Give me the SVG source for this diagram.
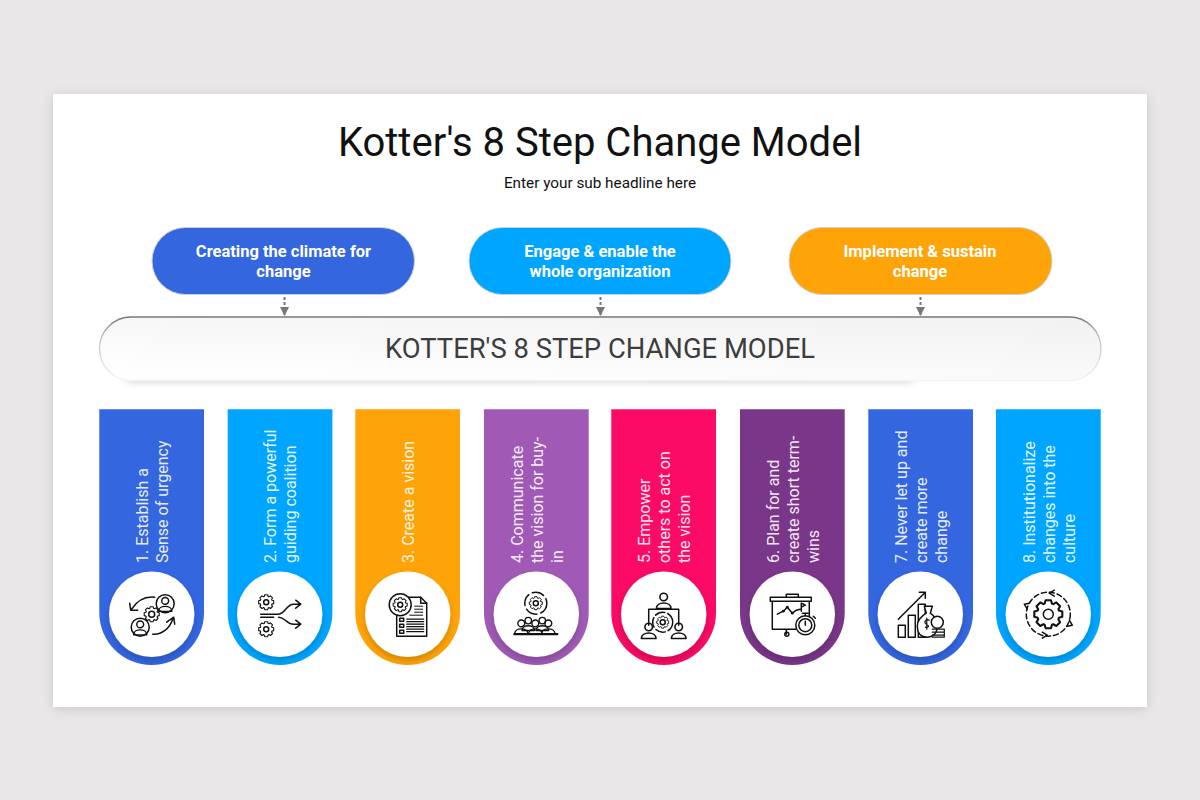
<svg xmlns="http://www.w3.org/2000/svg" xmlns:xlink="http://www.w3.org/1999/xlink" width="1200" height="800" viewBox="0 0 1200 800">
<style>
text{font-family:Roboto,"Liberation Sans",sans-serif}
.pill-t{font-size:16.500px;font-weight:700;fill:#fff;text-anchor:middle}
.step{font-size:16px;fill:#fff;fill-opacity:.9}
.i{fill:none;stroke:#111;stroke-width:1.5;stroke-linecap:round;stroke-linejoin:round}
.i *{vector-effect:non-scaling-stroke}
.w{fill:#fff}
.b{fill:#111;stroke:none}
.conn{stroke:#777;stroke-width:2;stroke-dasharray:3 2;fill:none}
.disc{fill:#fff;filter:url(#ds)}
.pill{stroke:#cfcfcf;stroke-width:1}
</style>
<defs>
<filter id="panel" x="-5%" y="-5%" width="110%" height="110%"><feDropShadow dx="0" dy="2" stdDeviation="6" flood-color="#000" flood-opacity=".14"/></filter>
<filter id="ds" x="-30%" y="-30%" width="160%" height="170%"><feDropShadow dx="0" dy="4" stdDeviation="3" flood-color="#000" flood-opacity=".18"/></filter>
<filter id="blur" x="-5%" y="-100%" width="110%" height="300%"><feGaussianBlur stdDeviation="4"/></filter>
<linearGradient id="bar" x1="0.2" y1="1" x2="0.8" y2="0"><stop offset="0" stop-color="#fff"/><stop offset="1" stop-color="#f2f2f2"/></linearGradient>
<linearGradient id="barStroke" x1="0" y1="0" x2="0" y2="1"><stop offset="0" stop-color="#777"/><stop offset=".3" stop-color="#bbb"/><stop offset="1" stop-color="#f4f4f4"/></linearGradient>
<marker id="tri" markerWidth="10" markerHeight="9" refX="9" refY="4.5" orient="auto" markerUnits="userSpaceOnUse"><path d="M0 0L9 4.5L0 9Z" fill="#777"/></marker>
<polygon id="gear" points="7.6,-2.6 10,-1.9 10,1.9 7.6,2.6 7.21,3.54 8.41,5.73 5.73,8.41 3.54,7.21 2.6,7.6 1.9,10 -1.9,10 -2.6,7.6 -3.54,7.21 -5.73,8.41 -8.41,5.73 -7.21,3.54 -7.6,2.6 -10,1.9 -10,-1.9 -7.6,-2.6 -7.21,-3.54 -8.41,-5.73 -5.73,-8.41 -3.54,-7.21 -2.6,-7.6 -1.9,-10 1.9,-10 2.6,-7.6 3.54,-7.21 5.73,-8.41 8.41,-5.73 7.21,-3.54"/>
<g id="person"><circle cx="0" cy="-4" r="3.6"/><path d="M-7 7C-7 0 7 0 7 7Z"/></g>
</defs>

<rect width="1200" height="800" fill="#e9e7e8"/>
<rect x="53" y="94" width="1094" height="613" fill="#fff" filter="url(#panel)"/>

<text id="title" x="600" y="156" font-size="40" fill="#111" text-anchor="middle">Kotter's 8 Step Change Model</text>
<text id="subtitle" x="600" y="188" font-size="15.300" fill="#111" text-anchor="middle">Enter your sub headline here</text>

<g id="phase-1"><rect class="pill" x="152" y="227.500" width="262.500" height="67" rx="33.500" fill="#3466e0"/><text class="pill-t" x="283.500" y="257">Creating the climate for</text><text class="pill-t" x="283.500" y="277">change</text></g>
<g id="phase-2"><rect class="pill" x="469" y="227.500" width="262" height="67" rx="33.500" fill="#00a5ff"/><text class="pill-t" x="600" y="257">Engage &amp; enable the</text><text class="pill-t" x="600" y="277">whole organization</text></g>
<g id="phase-3"><rect class="pill" x="789" y="227.500" width="263" height="67" rx="33.500" fill="#ffa408"/><text class="pill-t" x="920" y="257">Implement &amp; sustain</text><text class="pill-t" x="920" y="277">change</text></g>

<g id="connectors">
<line class="conn" x1="284.500" y1="297" x2="284.500" y2="316" marker-end="url(#tri)"/>
<line class="conn" x1="600.500" y1="297" x2="600.500" y2="316" marker-end="url(#tri)"/>
<line class="conn" x1="920.500" y1="297" x2="920.500" y2="316" marker-end="url(#tri)"/>
</g>

<g id="model-bar">
<rect x="125" y="368" width="790" height="13" rx="6" fill="#000" fill-opacity=".22" filter="url(#blur)"/>
<rect x="99.500" y="317" width="1001.500" height="63.500" rx="31.700" fill="url(#bar)" stroke="url(#barStroke)" stroke-width="1.300"/>
<text x="600" y="358" font-size="27.400" fill="#3d3d3d" text-anchor="middle">KOTTER'S 8 STEP CHANGE MODEL</text>
</g>

<g id="step-1">
<path d="M99.300 409.300h104.700v203.400a52.350 52.350 0 0 1-104.700 0z" fill="#3466e0"/>
<circle class="disc" cx="151.700" cy="614.200" r="42.700"/>
<text class="step" transform="translate(148 563) rotate(-90)">1. Establish a</text>
<text class="step" transform="translate(168 563) rotate(-90)">Sense of urgency</text>
<g class="i" transform="translate(151.700 614.200)">
<use xlink:href="#gear" href="#gear" transform="scale(.75)"/><circle r="3"/>
<circle cx="13.500" cy="-10.500" r="9"/><use xlink:href="#person" href="#person" transform="translate(13.500 -9.500) scale(.95)"/>
<circle cx="-11.500" cy="13" r="9"/><use xlink:href="#person" href="#person" transform="translate(-11.500 14) scale(.95)"/>
<path d="M3 -17C-7 -18 -15 -13 -20 -5M-22 -11L-21 -4L-14 -4"/>
<path d="M1 20C10 21 18 14 21 5M15 8L22 3L23 10"/>
</g>
</g>

<g id="step-2">
<path d="M227.700 409.300h104.700v203.400a52.350 52.350 0 0 1-104.700 0z" fill="#00a5ff"/>
<circle class="disc" cx="279.700" cy="614.200" r="42.700"/>
<text class="step" transform="translate(276 563) rotate(-90)">2. Form a powerful</text>
<text class="step" transform="translate(296 563) rotate(-90)">guiding coalition</text>
<g class="i" transform="translate(279.700 614.200)">
<use xlink:href="#gear" href="#gear" transform="translate(-13.500 -12) scale(.75)"/><circle cx="-13.500" cy="-12" r="2.500"/>
<use xlink:href="#gear" href="#gear" transform="translate(-13.500 15) scale(.75)"/><circle cx="-13.500" cy="15" r="2.500"/>
<path d="M-19 0H-2C6 0 6 -10 14 -10H20M-19 3H-6M-1 3C6 3 6 10 14 10H20M16 -14L21 -10L16 -6M16 6L21 10L16 14"/>
</g>
</g>

<g id="step-3">
<path d="M355.300 409.300h104.700v203.400a52.350 52.350 0 0 1-104.700 0z" fill="#ffa408"/>
<circle class="disc" cx="407.700" cy="614.200" r="42.700"/>
<text class="step" transform="translate(414 563) rotate(-90)">3. Create a vision</text>
<g class="i" transform="translate(407.700 614.200)">
<path class="w" d="M-9 -17H13L19 -11V22H-11V-2"/><path d="M13 -17V-11H19"/>
<circle class="w" cx="-7.500" cy="-9.500" r="11"/>
<use xlink:href="#gear" href="#gear" transform="translate(-7.500 -9.500) scale(.7)"/><circle cx="-7.500" cy="-9.500" r="2.500"/>
<path d="M7 -8H15M7 -5H15M7 -2H15M2 1H15" stroke-width="1"/>
<rect x="-8" y="4" width="4" height="3"/><rect x="-8" y="10" width="4" height="3"/><rect x="-8" y="16" width="4" height="3"/>
<path d="M-1 5H16M-1 7.500H16M-1 10H16M-1 12.500H16M-1 15H16M-1 17.500H16" stroke-width="1.200"/>
</g>
</g>

<g id="step-4">
<path d="M484 409.300h104.700v203.400a52.350 52.350 0 0 1-104.700 0z" fill="#a05ab6"/>
<circle class="disc" cx="536.300" cy="614.200" r="42.700"/>
<text class="step" transform="translate(523 563) rotate(-90)">4. Communicate</text>
<text class="step" transform="translate(543 563) rotate(-90)">the vision for buy-</text>
<text class="step" transform="translate(563 563) rotate(-90)">in</text>
<g class="i" transform="translate(536.300 614.200)">
<use xlink:href="#gear" href="#gear" transform="translate(-.500 -11) scale(.65)"/><circle cx="-.500" cy="-11" r="2.500"/>
<circle cx="-.500" cy="-11" r="11" stroke-dasharray="12 4"/>
<use xlink:href="#person" href="#person" transform="translate(-8 10) scale(.9)"/>
<use xlink:href="#person" href="#person" transform="translate(6 10) scale(.9)"/>
<use xlink:href="#person" href="#person" transform="translate(-15 13) scale(.95)"/>
<use xlink:href="#person" href="#person" transform="translate(12 13) scale(.95)"/>
<use xlink:href="#person" href="#person" transform="translate(-1 13) scale(.95)"/>
<path d="M-22 20H21" stroke-width="2.200"/>
</g>
</g>

<g id="step-5">
<path d="M611.300 409.300h104.700v203.400a52.350 52.350 0 0 1-104.700 0z" fill="#fb0a66"/>
<circle class="disc" cx="663.700" cy="614.200" r="42.700"/>
<text class="step" transform="translate(650.300 563) rotate(-90)">5. Empower</text>
<text class="step" transform="translate(670.300 563) rotate(-90)">others to act on</text>
<text class="step" transform="translate(690.300 563) rotate(-90)">the vision</text>
<g class="i" transform="translate(663.700 614.200)">
<use xlink:href="#person" href="#person" transform="translate(0 -13) scale(1.050)"/>
<path d="M-15 11V-5H15V11"/>
<use xlink:href="#gear" href="#gear" transform="translate(-1 8) scale(.6)"/><circle cx="-1" cy="8" r="2.500"/>
<circle cx="-1" cy="8" r="10" stroke-dasharray="10 3"/>
<use xlink:href="#person" href="#person" transform="translate(-15 17) scale(1.050)"/>
<use xlink:href="#person" href="#person" transform="translate(15 17) scale(1.050)"/>
</g>
</g>

<g id="step-6">
<path d="M740 409.300h104.700v203.400a52.350 52.350 0 0 1-104.700 0z" fill="#7a3689"/>
<circle class="disc" cx="792.300" cy="614.200" r="42.700"/>
<text class="step" transform="translate(779 563) rotate(-90)">6. Plan for and</text>
<text class="step" transform="translate(799 563) rotate(-90)">create short term-</text>
<text class="step" transform="translate(819 563) rotate(-90)">wins</text>
<g class="i" transform="translate(792.300 614.200)">
<path d="M-6 -20V-17H6V-20ZM-22 -17H19V-13H-22ZM-20 -13V15H6M17 -13V3M-6 15V20"/>
<circle cx="-5.500" cy="20" r="2"/>
<path d="M-15 0L-9 -3L-5 -7L0 -1L4 -4L8 -5"/>
<circle class="b" cx="-9" cy="-3" r="1.400"/><circle class="b" cx="-5" cy="-7" r="1.400"/><circle class="b" cx="0" cy="-1" r="1.400"/>
<path d="M9 -3V-11L13 -9L9 -7"/>
<circle class="w" cx="13" cy="11" r="9.500"/><circle cx="13" cy="11" r="6.500"/>
<path d="M13 11V7M10 -1H16M13 -1V1.500M21 2L23 4"/>
</g>
</g>

<g id="step-7">
<path d="M868.300 409.300h104.700v203.400a52.350 52.350 0 0 1-104.700 0z" fill="#3466e0"/>
<circle class="disc" cx="920.300" cy="614.200" r="42.700"/>
<text class="step" transform="translate(907 563) rotate(-90)">7. Never let up and</text>
<text class="step" transform="translate(927 563) rotate(-90)">create more</text>
<text class="step" transform="translate(947 563) rotate(-90)">change</text>
<g class="i" transform="translate(920.300 614.200)">
<rect x="-22" y="11" width="7" height="12"/>
<rect x="-12" y="1" width="7" height="22"/>
<rect x="-2" y="-10" width="7" height="33"/>
<path d="M-22 5L5 -22M-1 -22H5V-16"/>
<path class="w" d="M4 -8H12L10 -1C15 2 18 8 17 14C16 20 12 23 7 23C0 23 -3 18 -3 12C-3 7 1 2 6 -1Z"/>
<circle class="w" cx="17" cy="8" r="6"/>
<path d="M12 15H24M12 18H24M12 21H24M12 23H24V15" stroke-width="1.200"/>
<path d="M9 6C5 5 3 8 6 10C9 11 9 14 5 13M6.500 4V15" stroke-width="1.200"/>
</g>
</g>

<g id="step-8">
<path d="M996 409.300h104.700v203.400a52.350 52.350 0 0 1-104.700 0z" fill="#00a5ff"/>
<circle class="disc" cx="1048.300" cy="614.200" r="42.700"/>
<text class="step" transform="translate(1035 563) rotate(-90)">8. Institutionalize</text>
<text class="step" transform="translate(1055 563) rotate(-90)">changes into the</text>
<text class="step" transform="translate(1075 563) rotate(-90)">culture</text>
<g class="i" transform="translate(1048.300 614.200)">
<use xlink:href="#gear" href="#gear" transform="scale(1.400)"/><circle r="5"/>
<circle r="22" stroke-dasharray="5 3"/>
<path d="M6 -24L1 -21L6 -18M21 6L24 11L19 12M-6 24L-1 21L-6 18M-21 -5L-24 -10L-19 -11"/>
</g>
</g>
</svg>
